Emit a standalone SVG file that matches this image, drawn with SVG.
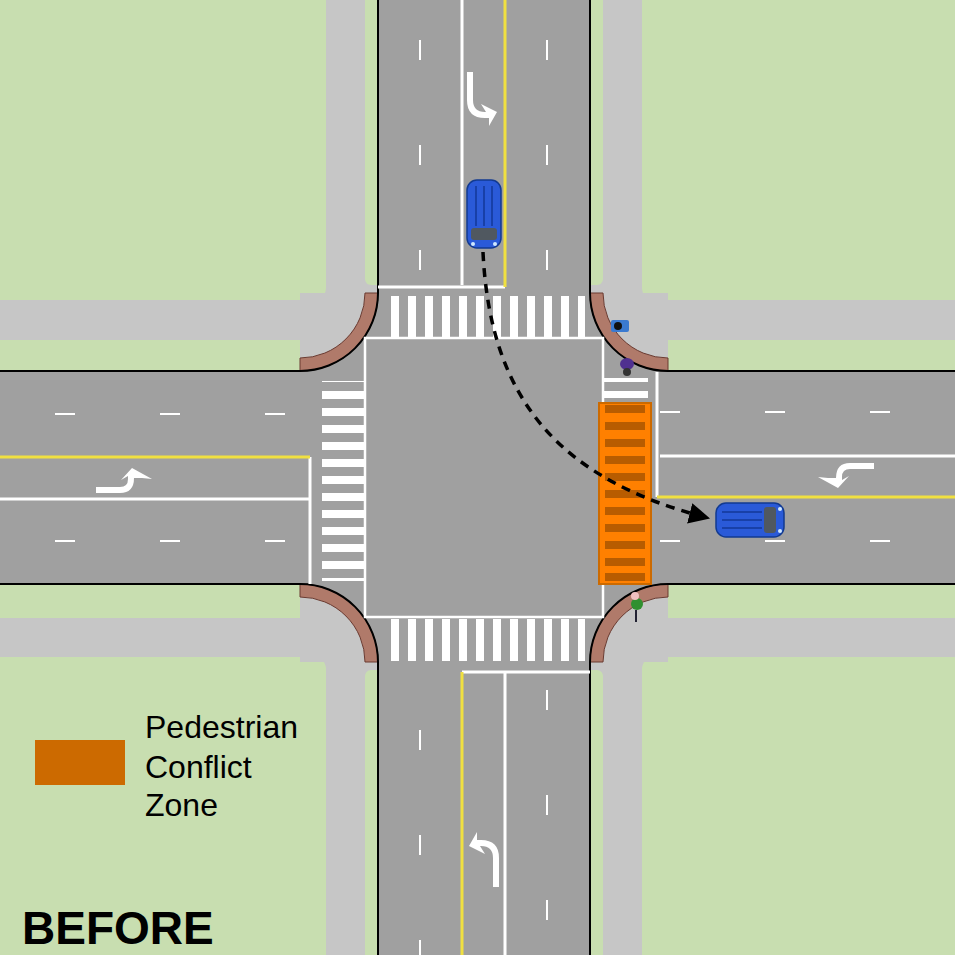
<svg xmlns="http://www.w3.org/2000/svg" width="955" height="955" viewBox="0 0 955 955">
<defs>
<style>
.road{fill:#a0a0a0}
.edge{stroke:#000;stroke-width:2;fill:none}
.w{stroke:#fff;stroke-width:3;fill:none}
.y{stroke:#f0e040;stroke-width:3;fill:none}
.dv{stroke:#fff;stroke-width:2;stroke-dasharray:20 85;fill:none}
.sw{fill:#c6c6c6}
.g{fill:#c8deb0}
.txt{font-family:"Liberation Sans",Arial,sans-serif;fill:#000}
.arrow{fill:#fff}
</style>
<pattern id="zebraV" x="0" y="0" width="17" height="10" patternUnits="userSpaceOnUse"><rect x="0" y="0" width="8" height="10" fill="#fff"/></pattern>
<pattern id="zebraH" x="0" y="0" width="10" height="17" patternUnits="userSpaceOnUse"><rect x="0" y="0" width="10" height="8" fill="#fff"/></pattern>
<marker id="ah" viewBox="0 0 10 10" refX="9" refY="5" markerWidth="6" markerHeight="6" orient="auto" markerUnits="strokeWidth"><path d="M0,0 L10,5 L0,10 Z" fill="#000"/></marker>
<g id="carShape">
<rect x="-17" y="-34" width="34" height="68" rx="10" fill="#2a5ad8" stroke="#123a90" stroke-width="1.5"/>
<line x1="-8" y1="-28" x2="-8" y2="12" stroke="#1840a8" stroke-width="2"/>
<line x1="0" y1="-28" x2="0" y2="12" stroke="#1840a8" stroke-width="2"/>
<line x1="8" y1="-28" x2="8" y2="12" stroke="#1840a8" stroke-width="2"/>
<rect x="-13" y="14" width="26" height="12" rx="3" fill="#505860"/>
<circle cx="-11" cy="30" r="2" fill="#cfe8ff"/><circle cx="11" cy="30" r="2" fill="#cfe8ff"/>
</g>
</defs>

<g id="background">
<rect width="955" height="955" fill="#c6c6c6"/>
<rect class="g" x="-20" y="-20" width="346" height="320" rx="12"/>
<rect class="g" x="642" y="-20" width="340" height="320" rx="12"/>
<rect class="g" x="-20" y="657" width="346" height="320" rx="12"/>
<rect class="g" x="642" y="657" width="340" height="320" rx="12"/>
<rect class="g" x="-20" y="340" width="336" height="40" rx="10"/>
<rect class="g" x="652" y="340" width="330" height="40" rx="10"/>
<rect class="g" x="-20" y="578" width="336" height="40" rx="10"/>
<rect class="g" x="652" y="578" width="330" height="40" rx="10"/>
<rect class="g" x="365" y="-20" width="20" height="305" rx="6"/>
<rect class="g" x="584" y="-20" width="19" height="305" rx="6"/>
<rect class="g" x="365" y="670" width="20" height="305" rx="6"/>
<rect class="g" x="584" y="670" width="19" height="305" rx="6"/>
</g>

<g id="roads">
<rect class="road" x="378" y="0" width="212" height="955"/>
<rect class="road" x="0" y="372" width="955" height="212"/>
<rect class="road" x="300" y="293" width="368" height="369"/>
<path class="sw" d="M300,293 L378,293 A78,78 0 0 1 300,371 Z"/>
<path class="sw" d="M668,293 L668,371 A78,78 0 0 1 590,293 Z"/>
<path class="sw" d="M300,662 L300,584 A78,78 0 0 1 378,662 Z"/>
<path class="sw" d="M668,662 L590,662 A78,78 0 0 1 668,584 Z"/>
<path d="M378,293 A78,78 0 0 1 300,371 L300,358 A65,65 0 0 0 365,293 Z" fill="#b07a6a" stroke="#6a3a30" stroke-width="1"/>
<path d="M590,293 A78,78 0 0 0 668,371 L668,358 A65,65 0 0 1 603,293 Z" fill="#b07a6a" stroke="#6a3a30" stroke-width="1"/>
<path d="M300,584 A78,78 0 0 1 378,662 L365,662 A65,65 0 0 0 300,597 Z" fill="#b07a6a" stroke="#6a3a30" stroke-width="1"/>
<path d="M668,584 A78,78 0 0 0 590,662 L603,662 A65,65 0 0 1 668,597 Z" fill="#b07a6a" stroke="#6a3a30" stroke-width="1"/>
<path class="edge" d="M378,0 V293 A78,78 0 0 1 300,371 H0"/>
<path class="edge" d="M590,0 V293 A78,78 0 0 0 668,371 H955"/>
<path class="edge" d="M0,584 H300 A78,78 0 0 1 378,662 V955"/>
<path class="edge" d="M955,584 H668 A78,78 0 0 0 590,662 V955"/>
</g>

<g id="markings">
<rect x="365" y="338" width="238" height="279" fill="none" stroke="#fff" stroke-width="2.5"/>
<rect x="385" y="296" width="200" height="41" fill="url(#zebraV)"/>
<rect x="385" y="619" width="200" height="42" fill="url(#zebraV)"/>
<rect x="322" y="381" width="42" height="200" fill="url(#zebraH)"/>
<rect x="604" y="378" width="44" height="20" fill="url(#zebraH)"/>
<line class="w" x1="462" y1="0" x2="462" y2="285"/>
<line class="w" x1="378" y1="287" x2="505" y2="287"/>
<path class="y" d="M505,0 V287"/>
<line class="dv" x1="420" y1="40" x2="420" y2="285"/>
<line class="dv" x1="547" y1="40" x2="547" y2="285"/>
<line class="w" x1="505" y1="672" x2="505" y2="955"/>
<line class="w" x1="462" y1="672" x2="590" y2="672"/>
<path class="y" d="M462,672 V955"/>
<line class="dv" x1="420" y1="730" x2="420" y2="955"/>
<line class="dv" x1="547" y1="690" x2="547" y2="955"/>
<line class="w" x1="0" y1="499" x2="310" y2="499"/>
<line class="w" x1="310" y1="457" x2="310" y2="584"/>
<path class="y" d="M0,457 H310"/>
<line class="dv" x1="55" y1="414" x2="310" y2="414"/>
<line class="dv" x1="55" y1="541" x2="310" y2="541"/>
<line class="w" x1="660" y1="456" x2="955" y2="456"/>
<line class="w" x1="657" y1="372" x2="657" y2="497"/>
<path class="y" d="M657,497 H955"/>
<line class="dv" x1="660" y1="412" x2="955" y2="412"/>
<line class="dv" x1="660" y1="541" x2="955" y2="541"/>
<path class="arrow" d="M473,72 L473,100 Q473,112 485,112 L486,112 L481,104 L497,112 L489,126 L489,118 L485,118 Q467,118 467,100 L467,72 Z"/>
<path class="arrow" d="M493,887 L493,858 Q493,846 481,846 L480,846 L485,854 L469,846 L477,832 L477,840 L481,840 Q499,840 499,858 L499,887 Z"/>
<path class="arrow" d="M96,487 L120,487 Q128,487 128,479 L128,476 L121,480 L132,468 L152,479 L142,478 L134,478 Q134,493 120,493 L96,493 Z"/>
<path class="arrow" d="M874,469 L850,469 Q842,469 842,477 L842,480 L849,476 L838,488 L818,477 L828,478 L836,478 Q836,463 850,463 L874,463 Z"/>
</g>

<g id="conflict-zone">
<rect x="599" y="403" width="52" height="181" fill="#ff8000" stroke="#cc6a00" stroke-width="2"/>
<g fill="#b85c00">
<rect x="605" y="405" width="40" height="8"/><rect x="605" y="422" width="40" height="8"/><rect x="605" y="439" width="40" height="8"/><rect x="605" y="456" width="40" height="8"/><rect x="605" y="473" width="40" height="8"/><rect x="605" y="490" width="40" height="8"/><rect x="605" y="507" width="40" height="8"/><rect x="605" y="524" width="40" height="8"/><rect x="605" y="541" width="40" height="8"/><rect x="605" y="558" width="40" height="8"/><rect x="605" y="573" width="40" height="8"/>
</g>
</g>

<g id="pedestrians">
<rect x="611" y="320" width="18" height="12" rx="2" fill="#3a7ad0"/><circle cx="618" cy="326" r="4" fill="#111"/>
<ellipse cx="627" cy="364" rx="7" ry="6" fill="#503090"/><circle cx="627" cy="372" r="4" fill="#333"/>
<ellipse cx="637" cy="604" rx="6" ry="6" fill="#309030"/><circle cx="635" cy="596" r="4" fill="#f0c0c0"/><line x1="636" y1="610" x2="636" y2="622" stroke="#223" stroke-width="2"/>
</g>

<g id="connectors">
<path d="M483,252 C490,400 560,480 708,518" fill="none" stroke="#000" stroke-width="3.5" stroke-dasharray="9 7" marker-end="url(#ah)"/>
</g>

<g id="car-southbound"><use href="#carShape" transform="translate(484,214)"/></g>
<g id="car-eastbound"><use href="#carShape" transform="translate(750,520) rotate(-90)"/></g>

<g id="legend">
<rect x="35" y="740" width="90" height="45" fill="#cc6a00"/>
<text class="txt" x="145" y="738" font-size="32">Pedestrian</text>
<text class="txt" x="145" y="778" font-size="32">Conflict</text>
<text class="txt" x="145" y="816" font-size="32">Zone</text>
<text class="txt" x="22" y="944" font-size="46" font-weight="bold">BEFORE</text>
</g>
</svg>
